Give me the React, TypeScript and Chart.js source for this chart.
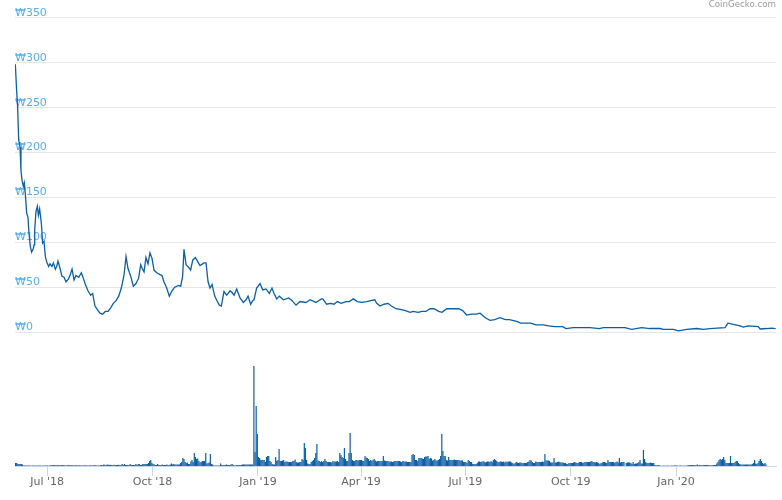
import { useEffect, useRef } from "react";
import { Chart, registerables } from "chart.js";

Chart.register(...registerables);

// Days counted from the first data point (early June 2018)
const tickDays = [28, 120, 212, 302, 393, 485, 577];
const tickLabels = ["Jul '18", "Oct '18", "Jan '19", "Apr '19", "Jul '19", "Oct '19", "Jan '20"];

const priceTicks = [0, 50, 100, 150, 200, 250, 300, 350];

const priceDays = [
  0.3, 1.4, 2.3, 3.2, 4.4, 5.2, 6.1, 7.3, 8.1, 9, 10.2, 11.3, 12.2, 13.4, 14.5, 16, 16.6, 17.2, 18.3, 19.5,
  20.4, 21.5, 23, 24.1, 25.3, 26.5, 27.9, 29.4, 30.5, 32.3, 33.5, 35.2, 36.4, 37.5, 39.3, 41, 42.8, 44.5, 46.6, 48.3,
  49.8, 51.5, 53.2, 55.6, 57.9, 59.6, 61.4, 63.7, 66, 67.8, 69.8, 71.9, 74.2, 76.5, 78.8, 81.2, 83.5, 85.8, 88.2, 90.5,
  92.8, 95.1, 96.9, 98.6, 101, 103.3, 105.6, 107.9, 109.7, 110.9, 112.6, 114.3, 116.1, 117.8, 119.6, 121.3, 123.7, 126.6, 128.3, 130,
  132.4, 134.7, 137, 139.4, 142.9, 144.6, 146.3, 147.5, 149.3, 151.6, 153.3, 155.1, 157.4, 159.2, 161.5, 165, 166.7, 168.5, 170.2, 172,
  174.3, 176.6, 178.4, 180.1, 182.4, 184.8, 187.7, 189.4, 191.2, 193.5, 196.4, 199.3, 201.6, 203.4, 205.7, 207.4, 208.6, 210.9, 213.9, 216.2,
  219.1, 222, 224.3, 226.1, 228.4, 230.7, 234.2, 238.9, 241.8, 245.3, 248.8, 254, 257.5, 262.7, 267.4, 268.6, 272, 275.5, 278.4, 281.4,
  284.8, 288.9, 291.8, 295.3, 298.8, 302.9, 307, 310.4, 314, 315.7, 318.6, 322.1, 325.6, 328.5, 332.6, 337.2, 340.7, 344.8, 347.7, 351.8,
  355.3, 358.7, 362.2, 365.7, 369.8, 372.7, 376.8, 382.6, 387.3, 390.7, 394.2, 398.3, 402.4, 405.9, 410.5, 414.6, 418.7, 423.3, 428, 431.5,
  437.9, 441.4, 446, 450.1, 454.7, 461.1, 465.8, 471, 478, 480.9, 487.3, 496, 501.9, 510, 513.5, 525.2, 532.4, 538.2, 547, 554.2,
  563, 565.9, 574.6, 579, 586.3, 595, 600.8, 606.6, 613, 619.7, 622.3, 627, 632.8, 635.7, 640.1, 648.8, 650.3, 656.1, 660.4, 663.9,
];

const priceValues = [
  298, 269, 250, 214, 206, 180, 169, 162, 166, 154, 132, 128, 110, 95, 89, 93, 97, 114, 134, 140,
  130, 137, 121, 99, 101, 84, 77, 73, 76, 73, 77, 70, 73, 79, 71, 62, 61, 56, 59, 64,
  70, 58, 63, 61, 66, 60, 53, 46, 41, 43, 29, 25, 21, 20, 23, 23, 27, 32, 35, 40,
  49, 63, 84, 71, 62, 51, 54, 60, 75, 71, 67, 83, 76, 88, 82, 69, 66, 64, 63, 56,
  49, 40, 46, 50, 52, 51, 62, 92, 75, 72, 69, 80, 83, 79, 74, 77, 77, 56, 49, 53,
  40, 34, 30, 29, 45, 41, 46, 44, 41, 48, 38, 33, 36, 40, 31, 35, 36, 49, 54, 47,
  48, 43, 49, 43, 37, 40, 36, 38, 35, 30, 34, 33, 36, 33, 37, 37, 31, 32, 31, 34,
  32, 34, 34, 37, 34, 33, 34, 35, 36, 32, 29, 31, 32, 29, 26, 25, 24, 22, 23, 22,
  23, 23, 26, 26, 23, 22, 26, 26, 26, 24, 19, 20, 20, 21, 16, 13, 14, 16, 14, 14,
  12, 10, 10, 10, 8, 8, 7, 6, 6, 4, 5, 5, 5, 4, 5, 5, 5, 3, 5, 4,
  4, 3, 3, 1.5, 3, 4, 3, 4, 4.5, 5, 10, 8.5, 7, 5.5, 7, 6, 3.5, 4, 4.5, 4,
];

// Daily volume, one value per day, index is the day
const volumes = [
  3, 3, 2, 2, 2, 2, 1.5, 0.5, 0.4, 0.4, 0.5, 0.4, 0.5, 0.4, 0.3, 0.4, 0.5, 0.4, 0.3, 0.5,
  0.4, 0.4, 0.5, 0.3, 0.4, 0.5, 0.4, 0.5, 0.4, 0.3, 0.7, 0.8, 0.7, 0.9, 0.8, 0.7, 0.8, 1, 0.8, 0.7,
  0.8, 0.9, 0.8, 0.7, 0.6, 0.8, 0.9, 0.7, 0.6, 0.7, 0.8, 0.6, 0.7, 0.8, 0.6, 0.5, 0.7, 0.6, 0.5, 0.7,
  0.6, 0.7, 0.6, 0.5, 0.6, 0.7, 0.6, 0.5, 0.6, 0.7, 0.8, 0.6, 0.5, 0.6, 0.7, 1, 0.8, 1.5, 1.2, 1,
  1.5, 1.2, 1, 1.3, 1.1, 1, 1.2, 1, 1.1, 1, 1.3, 1,
  // Sep - Dec 2018
  1, 2, 1, 2, 1, 1, 1, 1, 2, 1, 1, 1, 1, 2,
  1, 2, 2, 1, 1, 2, 2, 2, 2, 2, 3, 5, 6, 3, 2, 1.5, 1, 1, 2, 1,
  1, 1, 1.5, 1, 1, 1, 1.5, 1, 1, 1.5, 2.5, 1.5, 2, 1.5, 1.5, 1.5, 1.5, 1.5, 3, 4,
  8, 7, 4, 3, 3.5, 2, 2, 4.5, 6, 4, 13, 9, 7, 7.5, 5, 3.5, 4, 5, 5, 5,
  13, 2.5, 3, 3.5, 12, 2, 1.5, 0.5, 0.5, 0.5, 0.5, 0.5, 0.5, 2.5, 1, 1, 1, 1, 1.5, 1,
  1, 1, 1.5, 2, 1, 0.5, 0.5, 1, 1, 1, 1, 1, 1.5, 1.5, 1.5, 1.5, 1.5, 1.5, 1.5, 1.5,
  1.5, 1.5,
  // Late Dec 2018 spike
  100, 14, 60, 32, 9, 8, 6, 6, 6, 6, 4, 9, 10, 10, 5,
  4, 2, 1.5, 1.5, 9, 5, 6, 17, 5, 5, 5.5, 6, 4, 4.5, 4.5, 4, 4, 4, 4, 5,
  5, 6.5, 4, 3.5, 3.5, 4, 4, 7, 6, 23, 18, 6, 2.5, 2, 2, 4, 5, 6, 8, 13,
  22, 5.5, 5, 4, 5, 4, 5, 7, 5, 4, 4, 4, 4, 3.5, 5, 4.5, 4.5, 4.5, 5, 4,
  13, 11, 9, 8, 18, 7, 5, 5, 13, 33, 13, 6, 5, 5, 6, 6, 5.5, 6, 6, 6,
  5, 5, 10, 8.5, 8, 7, 5, 6, 5, 6, 7, 5.5, 4.5, 5, 5, 5, 5, 5, 10, 5.5,
  5, 5, 5, 4.5, 4.5, 4.5, 4, 4.5, 5, 5, 5, 5, 5, 4.5, 4, 5, 4.5, 4.5, 4.5, 4,
  4, 4, 4, 11, 12, 11, 6, 6, 5, 8, 8, 8, 7.5, 7, 9, 9.5, 9.5, 10, 7, 8,
  7.5, 5.5, 6, 7, 5.5, 5.5, 6, 7, 10, 32, 15, 10, 10, 6, 5.5, 9, 6, 6, 6, 6,
  6.5, 6, 6, 6, 6, 5.5, 5.5, 5.5, 4, 4, 4, 3, 6, 5, 4, 4, 2, 2, 2, 2,
  3, 4.5, 4.5, 4, 4.5, 4.5, 4.5, 3.5, 4, 4.5, 4.5, 4, 5, 4, 6, 7, 6, 5, 4, 4,
  4.5, 4.5, 4, 4.5, 3.5, 4.5, 4, 4.5, 4.5, 4.5, 3.5, 3, 2, 3, 4, 3.5, 3, 3.5, 3.5, 3,
  3, 3, 3, 3, 4, 4.5, 6, 5.5, 4, 3, 3, 4.5, 4, 4, 4, 4, 4, 4.5, 4, 12,
  5.5, 5.5, 5.5, 5, 3.5, 3.5, 3.5, 8, 3.5, 3.5, 4, 4.5, 4, 3.5, 3.5, 3.5, 3, 3, 2, 2,
  3, 3, 3, 3, 3.5, 4, 3.5, 3, 3, 4, 4, 4, 3, 3.5, 4, 4, 4, 4, 4, 4.5,
  5, 4, 4, 3.5, 4, 3.5, 3, 2, 3, 3.5, 4, 4, 3.5, 3, 6, 4, 4, 4, 4, 4,
  3, 4, 4.5, 3.5, 8, 3.5, 4, 4, 4, 0, 3, 3.5, 3.5, 3.5, 3, 2, 4, 2, 2.5, 2.5,
  3, 4, 6, 2.5, 2.5, 16, 7, 4, 3, 3, 3, 3.5, 3, 3, 3, 1, 0.8, 0.8, 0.8, 0.8,
  // Dec 2019 - Mar 2020
  0.3, 0.3, 0.3, 0.6, 0.3, 0.3, 0.5, 0.3, 0.3, 0.3, 0.5, 0.3, 0.5, 0.6, 0.6, 0.3, 0.3, 0.4, 0.5, 0.3,
  0.3, 0.6, 0.3, 0.4, 1, 1, 0.8, 1, 1, 0.9, 1, 0.8, 1.5, 0.6, 1, 0.8, 0.8, 1, 1, 1,
  0.9, 1, 0.8, 0.7, 0.8, 0.8, 1, 1, 1, 2.5, 4, 6, 7, 6, 7, 9, 6, 3, 3, 3,
  3, 10, 3, 3, 3, 4, 5, 5, 3, 2, 1.5, 1.5, 1.5, 1.5, 1.5, 1.5, 1.5, 1.5, 1.5, 1.5,
  2, 3, 6, 2.5, 2, 3, 5, 7, 5, 3, 2, 3, 1.5,
];

const lastDay = 664.2;
const fontFamily = "'DejaVu Sans', sans-serif";

export default function App() {
  const chartRef = useRef<HTMLCanvasElement>(null);

  useEffect(() => {
    if (!chartRef.current) return;

    const chart = new Chart(chartRef.current, {
      type: "bar",
      data: {
        datasets: [
          {
            type: "line",
            data: priceDays.map((d, i) => ({ x: d, y: priceValues[i] })),
            yAxisID: "price",
            borderColor: "#0b5fa5",
            borderWidth: 1.3,
            pointRadius: 0,
            tension: 0,
          },
          {
            type: "bar",
            // bars sit mid-day
            data: volumes.map((v, i) => ({ x: i + 0.5, y: v })),
            yAxisID: "volume",
            backgroundColor: "#0b5fa5",
            barThickness: 1.2,
            inflateAmount: 0,
          },
        ],
      },
      options: {
        responsive: false,
        animation: false,
        layout: { padding: { left: 15, right: 6, top: 17.4 } },
        plugins: { legend: { display: false }, tooltip: { enabled: false } },
        scales: {
          x: {
            type: "linear",
            offset: false,
            min: 0,
            max: lastDay,
            afterBuildTicks: (scale) => {
              scale.ticks = tickDays.map((value) => ({ value }));
            },
            afterFit: (scale) => {
              scale.height = 34;
            },
            grid: { offset: false, drawOnChartArea: false, color: "#ccd6eb", tickLength: 10 },
            border: { color: "#ccd6eb" },
            ticks: {
              autoSkip: false,
              maxRotation: 0,
              padding: 0,
              color: "#666666",
              font: { family: fontFamily, size: 11 },
              callback: (value) => tickLabels[tickDays.indexOf(Number(value))],
            },
          },
          price: {
            type: "linear",
            position: "left",
            stack: "main",
            stackWeight: 315,
            weight: 2,
            min: 0,
            max: 350,
            afterBuildTicks: (scale) => {
              scale.ticks = priceTicks.map((value) => ({ value }));
            },
            afterFit: (scale) => {
              scale.width = 0;
            },
            grid: { color: "#e6e6e6", drawTicks: false },
            border: { display: false },
            ticks: {
              mirror: true,
              padding: 0,
              color: "#58aeea",
              font: { family: fontFamily, size: 11, lineHeight: 0.85 },
              // empty second line lifts the label above its grid line
              callback: (value) => [`₩${value}`, ""],
            },
          },
          volume: {
            type: "linear",
            position: "left",
            stack: "main",
            stackWeight: 134,
            weight: 1,
            min: 0,
            max: 134,
            afterFit: (scale) => {
              scale.width = 0;
            },
            grid: { display: false },
            border: { display: false },
            ticks: { display: false },
          },
        },
      },
    });

    return () => chart.destroy();
  }, []);

  return (
    <div style={{ position: "absolute", left: 0, top: 0, width: 782, height: 500 }}>
      <canvas ref={chartRef} width={782} height={500} style={{ display: "block" }} />
      <div
        style={{
          position: "absolute",
          right: 6,
          top: -1,
          color: "#999999",
          fontFamily,
          fontSize: 8.7,
        }}
      >
        CoinGecko.com
      </div>
    </div>
  );
}
